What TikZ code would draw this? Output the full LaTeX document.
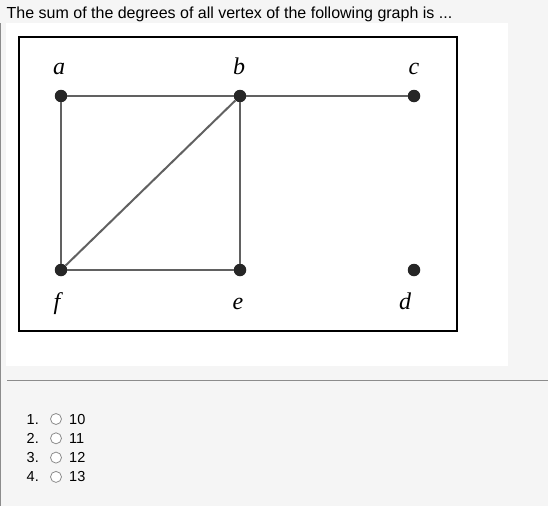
\documentclass[tikz,border=0pt]{standalone}
\usepackage{fontspec}
\setmainfont{Liberation Sans}
\newfontfamily\lblfont{Liberation Serif}
\begin{document}
\begin{tikzpicture}[x=1pt,y=-1pt,
  vtx/.style={circle,fill=black!85,inner sep=0pt,minimum size=12.5pt},
  edge/.style={draw=black!62,line width=2pt},
  lbl/.style={font=\lblfont\itshape\fontsize{24}{24}\selectfont,inner sep=0pt},
  opt/.style={font=\fontsize{14.5}{14.5}\selectfont,inner sep=0pt,anchor=west},
  radio/.style={circle,draw=black!45,fill=white,line width=0.8pt,minimum size=11pt,inner sep=0pt}]
\fill[black!4] (0,0) rectangle (548,506);
\useasboundingbox (0,0) rectangle (548,506);
\draw[black!45,line width=1pt] (0.5,23) -- (0.5,506);
\fill[white] (6,23) rectangle (508,366);
\node[font=\fontsize{16}{16}\selectfont,anchor=base west,inner sep=0pt] (title) at (6.5,18) {The sum of the degrees of all vertex of the following graph is ...};
\draw[black,line width=2pt] (19,37) rectangle (457,331);
\node[vtx] (a) at (61,96) {};
\node[vtx] (b) at (240,96) {};
\node[vtx] (c) at (414,96) {};
\node[vtx] (f) at (61,270) {};
\node[vtx] (e) at (240,270) {};
\node[vtx] (d) at (414,270) {};
\draw[edge] (a) -- (b);
\draw[edge] (b) -- (c);
\draw[edge] (a) -- (f);
\draw[edge] (b) -- (e);
\draw[edge] (b) -- (f);
\draw[edge] (f) -- (e);
\node[lbl,anchor=base] (la) at (59,74) {a};
\node[lbl,anchor=base] (lb) at (239,74) {b};
\node[lbl,anchor=base] (lc) at (414,74) {c};
\node[lbl,anchor=base] (lf) at (57,309) {f};
\node[lbl,anchor=base] (le) at (238,309) {e};
\node[lbl,anchor=base] (ld) at (405,309) {d};
\draw[black!45,line width=1pt] (7,380.5) -- (548,380.5);
\foreach \i/\v [count=\k] in {1/10,2/11,3/12,4/13}{
  \node[opt,anchor=base east] (n\k) at (39,{424+(\k-1)*19.3}) {\i.};
  \node[radio] (r\k) at (56,{419+(\k-1)*19.3}) {};
  \node[opt,anchor=base west] (t\k) at (69,{424+(\k-1)*19.3}) {\v};
}
\end{tikzpicture}
\end{document}
